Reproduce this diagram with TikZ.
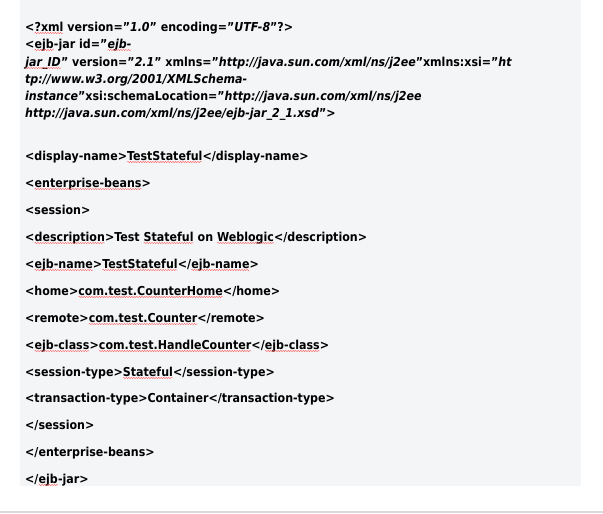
\documentclass[tikz,border=0pt]{standalone}
\usepackage{fontspec}
\setmainfont{DejaVu Sans Condensed}
\usetikzlibrary{decorations.pathmorphing}
\definecolor{bg}{HTML}{F4F5F7}
\newcommand{\sq}[1]{\tikz[baseline=(w.base)]{\node[inner sep=0pt,outer sep=0pt](w){#1};\draw[red!70,line width=0.3pt,decorate,decoration={snake,amplitude=0.7pt,segment length=2.5pt}] ([yshift=-2pt]w.base west)--([yshift=-2pt]w.base east);}}
\begin{document}
\begin{tikzpicture}[x=1pt,y=-1pt,txt/.style={anchor=base west,inner sep=0pt,font=\fontsize{12.3}{14}\selectfont\bfseries}]
\useasboundingbox (0,0) rectangle (603,514);
\fill[white] (0,0) rectangle (603,514);
\fill[bg] (20,0) rectangle (581,486);
\draw[gray!30,line width=1.5pt] (0,512) -- (603,512);
\node[txt] (l1) at (25,31) {<\sq{?xml} version="\textit{1.0}" encoding="\textit{UTF-8}"?>};
\node[txt] (l2) at (25,48) {<\sq{ejb}-jar id="\textit{\sq{ejb-}}};
\node[txt] (l3) at (25,66) {\textit{\sq{jar\_ID}}" version="\textit{2.1}" xmlns="\textit{http://java.sun.com/xml/ns/j2ee}"xmlns:xsi="\textit{ht}};
\node[txt] (l4) at (25,83) {\textit{tp://www.w3.org/2001/XMLSchema-}};
\node[txt] (l5) at (25,100) {\textit{instance}"xsi:schemaLocation="\textit{http://java.sun.com/xml/ns/j2ee}};
\node[txt] (l6) at (25,117) {\textit{http://java.sun.com/xml/ns/j2ee/ejb-jar\_2\_1.xsd}">};
\node[txt] (a1) at (25,160) {<display-name>\sq{TestStateful}</display-name>};
\node[txt] (a2) at (25,187) {<\sq{enterprise-beans}>};
\node[txt] (a3) at (25,214) {<session>};
\node[txt] (a4) at (25,241) {<\sq{description}>Test \sq{Stateful} on \sq{Weblogic}</description>};
\node[txt] (a5) at (25,268) {<\sq{ejb-name}>\sq{TestStateful}</\sq{ejb-name}>};
\node[txt] (a6) at (25,295) {<home>\sq{com.test.CounterHome}</home>};
\node[txt] (a7) at (25,322) {<remote>\sq{com.test.Counter}</remote>};
\node[txt] (a8) at (25,349) {<\sq{ejb-class}>\sq{com.test.HandleCounter}</\sq{ejb-class}>};
\node[txt] (a9) at (25,376) {<session-type>\sq{Stateful}</session-type>};
\node[txt] (a10) at (25,402) {<transaction-type>Container</transaction-type>};
\node[txt] (a11) at (25,429) {</session>};
\node[txt] (a12) at (25,456) {</enterprise-beans>};
\node[txt] (a13) at (25,483) {</\sq{ejb}-jar>};
\end{tikzpicture}
\end{document}
